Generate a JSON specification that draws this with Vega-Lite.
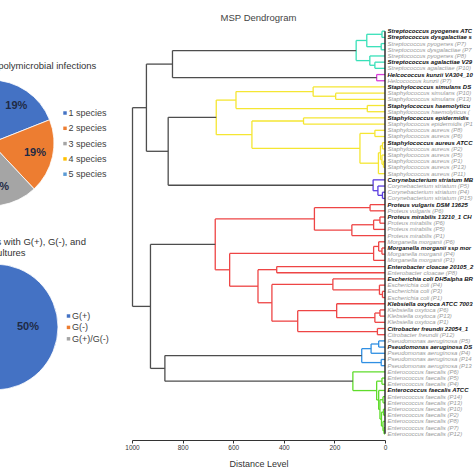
{
  "$schema": "https://vega.github.io/schema/vega-lite/v6.json",
  "autosize": {"type": "pad"},
  "padding": {"left": -115, "top": 12, "right": 0, "bottom": 0},
  "config": {"view": {"stroke": null}, "font": "Liberation Sans", "axisX": {"labelOverlap": false, "labelFlush": false}},
  "bounds": "flush",
  "spacing": 204,
  "resolve": {"scale": {"color": "independent"}, "legend": {"color": "independent"}},
  "datasets": {
    "pie1": [
      {"k": "1 species", "v": 19, "o": 1, "t": "19%"},
      {"k": "2 species", "v": 19, "o": 2, "t": "19%"},
      {"k": "3 species", "v": 19, "o": 3, "t": "19%"},
      {"k": "4 species", "v": 24, "o": 4, "t": "24%"},
      {"k": "5 species", "v": 19, "o": 5, "t": "19%"}
    ],
    "pie2": [
      {"k": "G(+)", "v": 50, "o": 1, "t": "50%"},
      {"k": "G(-)", "v": 31, "o": 2, "t": "31%"},
      {"k": "G(+)/G(-)", "v": 19, "o": 3, "t": "19%"}
    ],
    "nodes": [
      {"d":12,"pd":72,"u":0.5,"ut":0,"ub":1,"c":"t","hc":"t"},
      {"d":15,"pd":72,"u":2.5,"ut":2,"ub":3,"c":"t","hc":"t"},
      {"d":72,"pd":114,"u":1.5,"ut":0.5,"ub":2.5,"c":"t","hc":"t"},
      {"d":40,"pd":60,"u":5.5,"ut":5,"ub":6,"c":"t","hc":"t"},
      {"d":60,"pd":114,"u":4.75,"ut":4,"ub":5.5,"c":"t","hc":"t"},
      {"d":114,"pd":840,"u":3.125,"ut":1.5,"ub":4.75,"c":"t","hc":"k"},
      {"d":33,"pd":840,"u":7.5,"ut":7,"ub":8,"c":"m","hc":"k"},
      {"d":840,"pd":943,"u":5.3125,"ut":3.125,"ub":7.5,"c":"k","hc":"k"},
      {"d":195,"pd":284,"u":10.5,"ut":10,"ub":11,"c":"y","hc":"y"},
      {"d":284,"pd":589,"u":9.75,"ut":9,"ub":10.5,"c":"y","hc":"y"},
      {"d":70,"pd":589,"u":12.5,"ut":12,"ub":13,"c":"y","hc":"y"},
      {"d":589,"pd":667,"u":11.125,"ut":9.75,"ub":12.5,"c":"y","hc":"y"},
      {"d":322,"pd":526,"u":14.5,"ut":14,"ub":15,"c":"y","hc":"y"},
      {"d":40,"pd":99,"u":16.5,"ut":16,"ub":17,"c":"y","hc":"y"},
      {"d":10,"pd":18,"u":18.5,"ut":18,"ub":19,"c":"y","hc":"y"},
      {"d":6,"pd":12,"u":21.5,"ut":21,"ub":22,"c":"y","hc":"y"},
      {"d":12,"pd":18,"u":20.75,"ut":20,"ub":21.5,"c":"y","hc":"y"},
      {"d":18,"pd":26,"u":19.625,"ut":18.5,"ub":20.75,"c":"y","hc":"y"},
      {"d":26,"pd":99,"u":21.31,"ut":19.625,"ub":23,"c":"y","hc":"y"},
      {"d":99,"pd":526,"u":18.91,"ut":16.5,"ub":21.31,"c":"y","hc":"y"},
      {"d":526,"pd":667,"u":16.7,"ut":14.5,"ub":18.91,"c":"y","hc":"y"},
      {"d":667,"pd":857,"u":13.91,"ut":11.125,"ub":16.7,"c":"y","hc":"k"},
      {"d":10,"pd":28,"u":26.5,"ut":26,"ub":27,"c":"p","hc":"p"},
      {"d":28,"pd":47,"u":25.75,"ut":25,"ub":26.5,"c":"p","hc":"p"},
      {"d":47,"pd":857,"u":24.875,"ut":24,"ub":25.75,"c":"p","hc":"k"},
      {"d":857,"pd":943,"u":19.39,"ut":13.91,"ub":24.875,"c":"k","hc":"k"},
      {"d":943,"pd":998,"u":12.35,"ut":5.3125,"ub":19.39,"c":"k","hc":"k"},
      {"d":59,"pd":279,"u":28.5,"ut":28,"ub":29,"c":"r","hc":"r"},
      {"d":20,"pd":45,"u":30.5,"ut":30,"ub":31,"c":"r","hc":"r"},
      {"d":45,"pd":131,"u":31.25,"ut":30.5,"ub":32,"c":"r","hc":"r"},
      {"d":131,"pd":279,"u":32.125,"ut":31.25,"ub":33,"c":"r","hc":"r"},
      {"d":279,"pd":671,"u":30.31,"ut":28.5,"ub":32.125,"c":"r","hc":"r"},
      {"d":12,"pd":25,"u":35.5,"ut":35,"ub":36,"c":"r","hc":"r"},
      {"d":25,"pd":45,"u":34.75,"ut":34,"ub":35.5,"c":"r","hc":"r"},
      {"d":45,"pd":614,"u":35.875,"ut":34.75,"ub":37,"c":"r","hc":"r"},
      {"d":428,"pd":502,"u":38.5,"ut":38,"ub":39,"c":"r","hc":"r"},
      {"d":10,"pd":22,"u":42.5,"ut":42,"ub":43,"c":"r","hc":"r"},
      {"d":22,"pd":206,"u":41.75,"ut":41,"ub":42.5,"c":"r","hc":"r"},
      {"d":206,"pd":447,"u":40.875,"ut":40,"ub":41.75,"c":"r","hc":"r"},
      {"d":20,"pd":40,"u":45.5,"ut":45,"ub":46,"c":"r","hc":"r"},
      {"d":40,"pd":191,"u":46.25,"ut":45.5,"ub":47,"c":"r","hc":"r"},
      {"d":191,"pd":345,"u":45.125,"ut":44,"ub":46.25,"c":"r","hc":"r"},
      {"d":30,"pd":345,"u":48.5,"ut":48,"ub":49,"c":"r","hc":"r"},
      {"d":345,"pd":447,"u":46.81,"ut":45.125,"ub":48.5,"c":"r","hc":"r"},
      {"d":447,"pd":502,"u":43.84,"ut":40.875,"ub":46.81,"c":"r","hc":"r"},
      {"d":502,"pd":614,"u":41.17,"ut":38.5,"ub":43.84,"c":"r","hc":"r"},
      {"d":614,"pd":671,"u":38.52,"ut":35.875,"ub":41.17,"c":"r","hc":"r"},
      {"d":671,"pd":927,"u":34.42,"ut":30.31,"ub":38.52,"c":"r","hc":"k"},
      {"d":25,"pd":55,"u":50.5,"ut":50,"ub":51,"c":"b","hc":"b"},
      {"d":55,"pd":92,"u":51.25,"ut":50.5,"ub":52,"c":"b","hc":"b"},
      {"d":15,"pd":92,"u":53.5,"ut":53,"ub":54,"c":"b","hc":"b"},
      {"d":92,"pd":870,"u":52.375,"ut":51.25,"ub":53.5,"c":"b","hc":"k"},
      {"d":12,"pd":33,"u":56.5,"ut":56,"ub":57,"c":"g","hc":"g"},
      {"d":8,"pd":20,"u":59.5,"ut":59,"ub":60,"c":"g","hc":"g"},
      {"d":6,"pd":14,"u":61.5,"ut":61,"ub":62,"c":"g","hc":"g"},
      {"d":4,"pd":8,"u":64.5,"ut":64,"ub":65,"c":"g","hc":"g"},
      {"d":8,"pd":14,"u":63.75,"ut":63,"ub":64.5,"c":"g","hc":"g"},
      {"d":14,"pd":20,"u":62.625,"ut":61.5,"ub":63.75,"c":"g","hc":"g"},
      {"d":20,"pd":25,"u":61.06,"ut":59.5,"ub":62.625,"c":"g","hc":"g"},
      {"d":25,"pd":33,"u":59.53,"ut":58,"ub":61.06,"c":"g","hc":"g"},
      {"d":33,"pd":127,"u":58.02,"ut":56.5,"ub":59.53,"c":"g","hc":"g"},
      {"d":127,"pd":870,"u":56.51,"ut":55,"ub":58.02,"c":"g","hc":"k"},
      {"d":870,"pd":927,"u":54.44,"ut":52.375,"ub":56.51,"c":"k","hc":"k"},
      {"d":927,"pd":998,"u":44.43,"ut":34.42,"ub":54.44,"c":"k","hc":"k"},
      {"d":998,"u":28.39,"ut":12.35,"ub":44.43,"c":"k"}
    ],
    "leaves": [
      {"i":0,"z":0,"n":"Streptococcus pyogenes ATCC 19615","b":1,"pd":12,"c":"t"},
      {"i":1,"z":0,"n":"Streptococcus dysgalactiae ssp equisimilis","b":1,"pd":12,"c":"t"},
      {"i":2,"z":0,"n":"Streptococcus pyogenes (P7)","b":0,"pd":15,"c":"t"},
      {"i":3,"z":0,"n":"Streptococcus dysgalactiae (P7)","b":0,"pd":15,"c":"t"},
      {"i":4,"z":0,"n":"Streptococcus pyogenes (P8)","b":0,"pd":60,"c":"t"},
      {"i":5,"z":0,"n":"Streptococcus agalactiae V2965","b":1,"pd":40,"c":"t"},
      {"i":6,"z":0,"n":"Streptococcus agalactiae (P10)","b":0,"pd":40,"c":"t"},
      {"i":7,"z":0,"n":"Helcococcus kunzii VA304_10 LBK","b":1,"pd":33,"c":"m"},
      {"i":8,"z":0,"n":"Helcococcus kunzii (P7)","b":0,"pd":33,"c":"m"},
      {"i":9,"z":0,"n":"Staphylococcus simulans DSM 20322","b":1,"pd":284,"c":"y"},
      {"i":10,"z":0,"n":"Staphylococcus simulans (P10)","b":0,"pd":195,"c":"y"},
      {"i":11,"z":0,"n":"Staphylococcus simulans (P13)","b":0,"pd":195,"c":"y"},
      {"i":12,"z":0,"n":"Staphylococcus haemolyticus DSM 20263","b":1,"pd":70,"c":"y"},
      {"i":13,"z":0,"n":"Staphylococcus haemolyticus (P14)","b":0,"pd":70,"c":"y"},
      {"i":14,"z":0,"n":"Staphylococcus epidermidis ATCC 12228","b":1,"pd":322,"c":"y"},
      {"i":15,"z":0,"n":"Staphylococcus epidermidis (P14)","b":0,"pd":322,"c":"y"},
      {"i":16,"z":0,"n":"Staphylococcus aureus (P8)","b":0,"pd":40,"c":"y"},
      {"i":17,"z":0,"n":"Staphylococcus aureus (P6)","b":0,"pd":40,"c":"y"},
      {"i":18,"z":0,"n":"Staphylococcus aureus ATCC 29213","b":1,"pd":10,"c":"y"},
      {"i":19,"z":0,"n":"Staphylococcus aureus (P2)","b":0,"pd":10,"c":"y"},
      {"i":20,"z":0,"n":"Staphylococcus aureus (P5)","b":0,"pd":12,"c":"y"},
      {"i":21,"z":0,"n":"Staphylococcus aureus (P1)","b":0,"pd":6,"c":"y"},
      {"i":22,"z":0,"n":"Staphylococcus aureus (P13)","b":0,"pd":6,"c":"y"},
      {"i":23,"z":0,"n":"Staphylococcus aureus (P11)","b":0,"pd":26,"c":"y"},
      {"i":24,"z":0,"n":"Corynebacterium striatum MB 2010","b":1,"pd":47,"c":"p"},
      {"i":25,"z":0,"n":"Corynebacterium striatum (P5)","b":0,"pd":28,"c":"p"},
      {"i":26,"z":0,"n":"Corynebacterium striatum (P4)","b":0,"pd":10,"c":"p"},
      {"i":27,"z":0,"n":"Corynebacterium striatum (P15)","b":0,"pd":10,"c":"p"},
      {"i":28,"z":0,"n":"Proteus vulgaris DSM 13625 DSM","b":1,"pd":59,"c":"r"},
      {"i":29,"z":0,"n":"Proteus vulgaris (P6)","b":0,"pd":59,"c":"r"},
      {"i":30,"z":0,"n":"Proteus mirabilis 13210_1 CHB","b":1,"pd":20,"c":"r"},
      {"i":31,"z":0,"n":"Proteus mirabilis (P6)","b":0,"pd":20,"c":"r"},
      {"i":32,"z":0,"n":"Proteus mirabilis (P5)","b":0,"pd":45,"c":"r"},
      {"i":33,"z":0,"n":"Proteus mirabilis (P1)","b":0,"pd":131,"c":"r"},
      {"i":34,"z":0,"n":"Morganella morganii (P6)","b":0,"pd":25,"c":"r"},
      {"i":35,"z":0,"n":"Morganella morganii ssp morganii","b":1,"pd":12,"c":"r"},
      {"i":36,"z":0,"n":"Morganella morganii (P4)","b":0,"pd":12,"c":"r"},
      {"i":37,"z":0,"n":"Morganella morganii (P1)","b":0,"pd":45,"c":"r"},
      {"i":38,"z":0,"n":"Enterobacter cloacae 20105_2 CHB","b":1,"pd":428,"c":"r"},
      {"i":39,"z":0,"n":"Enterobacter cloacae (P8)","b":0,"pd":428,"c":"r"},
      {"i":40,"z":0,"n":"Escherichia coli DH5alpha BRL","b":1,"pd":206,"c":"r"},
      {"i":41,"z":0,"n":"Escherichia coli (P4)","b":0,"pd":22,"c":"r"},
      {"i":42,"z":0,"n":"Escherichia coli (P3)","b":0,"pd":10,"c":"r"},
      {"i":43,"z":0,"n":"Escherichia coli (P1)","b":0,"pd":10,"c":"r"},
      {"i":44,"z":0,"n":"Klebsiella oxytoca ATCC 700324","b":1,"pd":191,"c":"r"},
      {"i":45,"z":0,"n":"Klebsiella oxytoca (P6)","b":0,"pd":20,"c":"r"},
      {"i":46,"z":0,"n":"Klebsiella oxytoca (P13)","b":0,"pd":20,"c":"r"},
      {"i":47,"z":0,"n":"Klebsiella oxytoca (P1)","b":0,"pd":40,"c":"r"},
      {"i":48,"z":0,"n":"Citrobacter freundii 22054_1 CHB","b":1,"pd":30,"c":"r"},
      {"i":49,"z":0,"n":"Citrobacter freundii (P12)","b":0,"pd":30,"c":"r"},
      {"i":50,"z":0,"n":"Pseudomonas aeruginosa (P5)","b":0,"pd":25,"c":"b"},
      {"i":51,"z":0,"n":"Pseudomonas aeruginosa DSM 1117","b":1,"pd":25,"c":"b"},
      {"i":52,"z":0,"n":"Pseudomonas aeruginosa (P4)","b":0,"pd":55,"c":"b"},
      {"i":53,"z":0,"n":"Pseudomonas aeruginosa (P14)","b":0,"pd":15,"c":"b"},
      {"i":54,"z":0,"n":"Pseudomonas aeruginosa (P13)","b":0,"pd":15,"c":"b"},
      {"i":55,"z":0,"n":"Enterococcus faecalis (P6)","b":0,"pd":127,"c":"g"},
      {"i":56,"z":0,"n":"Enterococcus faecalis (P5)","b":0,"pd":12,"c":"g"},
      {"i":57,"z":0,"n":"Enterococcus faecalis (P4)","b":0,"pd":12,"c":"g"},
      {"i":58,"z":0,"n":"Enterococcus faecalis ATCC 7080","b":1,"pd":25,"c":"g"},
      {"i":59,"z":0,"n":"Enterococcus faecalis (P14)","b":0,"pd":8,"c":"g"},
      {"i":60,"z":0,"n":"Enterococcus faecalis (P13)","b":0,"pd":8,"c":"g"},
      {"i":61,"z":0,"n":"Enterococcus faecalis (P10)","b":0,"pd":6,"c":"g"},
      {"i":62,"z":0,"n":"Enterococcus faecalis (P2)","b":0,"pd":6,"c":"g"},
      {"i":63,"z":0,"n":"Enterococcus faecalis (P8)","b":0,"pd":8,"c":"g"},
      {"i":64,"z":0,"n":"Enterococcus faecalis (P7)","b":0,"pd":4,"c":"g"},
      {"i":65,"z":0,"n":"Enterococcus faecalis (P12)","b":0,"pd":4,"c":"g"}
    ]
  },
  "hconcat": [
    {
      "bounds": "flush",
      "spacing": 3,
      "resolve": {"scale": {"color": "independent"}, "legend": {"color": "independent"}},
      "vconcat": [
        {
          "width": 126,
          "height": 236,
          "title": {"text": "Number of species in total polymicrobial infections", "fontSize": 9.5, "fontWeight": "normal", "color": "#333333", "anchor": "middle", "offset": 0, "baseline": "bottom", "dy": 55.5},
          "data": {"name": "pie1"},
          "encoding": {
            "theta": {"field": "v", "type": "quantitative", "stack": true},
            "order": {"field": "o", "type": "quantitative"},
            "color": {
              "field": "k", "type": "nominal",
              "scale": {"domain": ["1 species", "2 species", "3 species", "4 species", "5 species"], "range": ["#4472c4", "#ed7d31", "#a5a5a5", "#ffc000", "#5b9bd5"]},
              "legend": {"title": null, "orient": "none", "legendX": 132.5, "legendY": 83.5, "symbolType": "square", "symbolSize": 12, "labelFontSize": 9, "labelColor": "#404040", "rowPadding": 5.3, "labelOffset": -1, "padding": 0, "symbolStrokeWidth": 0}
            }
          },
          "layer": [
            {"mark": {"type": "arc", "radius": 63, "stroke": "#ffffff", "strokeWidth": 0.8}},
            {"mark": {"type": "text", "radius": 45, "fontSize": 11, "fontWeight": "bold", "fill": "#1f2a44"}, "encoding": {"text": {"field": "t", "type": "nominal"}}}
          ]
        },
        {
          "width": 134,
          "height": 126,
          "title": {"text": ["Proportion of infections with G(+), G(-), and", "mixed cultures"], "fontSize": 9.5, "lineHeight": 10.5, "fontWeight": "normal", "color": "#333333", "anchor": "middle", "offset": 7, "baseline": "bottom", "dy": 12},
          "data": {"name": "pie2"},
          "encoding": {
            "theta": {"field": "v", "type": "quantitative", "stack": true},
            "order": {"field": "o", "type": "quantitative"},
            "color": {
              "field": "k", "type": "nominal",
              "scale": {"domain": ["G(+)", "G(-)", "G(+)/G(-)"], "range": ["#4472c4", "#ed7d31", "#a5a5a5"]},
              "legend": {"title": null, "orient": "none", "legendX": 136, "legendY": 47.5, "symbolType": "square", "symbolSize": 12, "labelFontSize": 9, "labelColor": "#404040", "rowPadding": 1.4, "labelOffset": -1, "padding": 0, "symbolStrokeWidth": 0}
            }
          },
          "layer": [
            {"mark": {"type": "arc", "radius": 63, "stroke": "#ffffff", "strokeWidth": 0.8}},
            {"mark": {"type": "text", "radius": 33, "fontSize": 11, "fontWeight": "bold", "fill": "#1f2a44"}, "encoding": {"text": {"field": "t", "type": "nominal"}}}
          ]
        }
      ]
    },
    {
      "width": 253,
      "height": 415,
      "title": {"text": "MSP Dendrogram", "fontSize": 9.5, "fontWeight": "normal", "color": "#444444", "offset": 3},
      "layer": [
        {
          "data": {"name": "nodes"},
          "mark": {"type": "rule", "strokeWidth": 1.3},
          "encoding": {
            "x": {"field": "d", "type": "quantitative",
              "scale": {"domain": [0, 1000], "reverse": true, "nice": false, "zero": true},
              "axis": {"values": [0, 100, 200, 300, 400, 500, 600, 700, 800, 900, 1000], "tickCount": 10, "title": "Distance Level", "format": "d", "grid": false, "labelFontSize": 6.5, "labelColor": "#333333", "labelFlush": false, "labelOverlap": false, "tickColor": "#333333", "domainColor": "#333333", "tickSize": 3, "labelPadding": 1.5, "titleFontSize": 9, "titleFontWeight": "normal", "titleColor": "#333333", "titlePadding": 8}},
            "y": {"field": "ut", "type": "quantitative", "scale": {"domain": [-1, 66], "reverse": true, "nice": false, "zero": false}, "axis": null},
            "y2": {"field": "ub"},
            "stroke": {"field": "c", "type": "nominal", "scale": {"domain": ["k", "t", "m", "y", "p", "r", "b", "g"], "range": ["#4d4d4d", "#38e0b8", "#d93fd9", "#f5e633", "#5a3de0", "#ee4545", "#2f8fe3", "#5fdc2b"]}, "legend": null}
          }
        },
        {
          "data": {"name": "nodes"},
          "transform": [{"filter": "isValid(datum.pd)"}],
          "mark": {"type": "rule", "strokeWidth": 1.3},
          "encoding": {
            "x": {"field": "d", "type": "quantitative", "axis": {"values": [0, 100, 200, 300, 400, 500, 600, 700, 800, 900, 1000], "tickCount": 10, "title": "Distance Level", "format": "d", "grid": false, "labelFontSize": 6.5, "labelColor": "#333333", "labelFlush": false, "labelOverlap": false, "tickColor": "#333333", "domainColor": "#333333", "tickSize": 3, "labelPadding": 1.5, "titleFontSize": 9, "titleFontWeight": "normal", "titleColor": "#333333", "titlePadding": 8}},
            "x2": {"field": "pd"},
            "y": {"field": "u", "type": "quantitative", "axis": null},
            "stroke": {"field": "hc", "type": "nominal", "legend": null}
          }
        },
        {
          "data": {"name": "leaves"},
          "mark": {"type": "rule", "strokeWidth": 1.3},
          "encoding": {
            "x": {"field": "z", "type": "quantitative", "axis": {"values": [0, 100, 200, 300, 400, 500, 600, 700, 800, 900, 1000], "tickCount": 10, "title": "Distance Level", "format": "d", "grid": false, "labelFontSize": 6.5, "labelColor": "#333333", "labelFlush": false, "labelOverlap": false, "tickColor": "#333333", "domainColor": "#333333", "tickSize": 3, "labelPadding": 1.5, "titleFontSize": 9, "titleFontWeight": "normal", "titleColor": "#333333", "titlePadding": 8}},
            "x2": {"field": "pd"},
            "y": {"field": "i", "type": "quantitative", "axis": null},
            "stroke": {"field": "c", "type": "nominal", "legend": null}
          }
        },
        {
          "data": {"name": "leaves"},
          "mark": {"type": "rule", "strokeWidth": 1.4, "color": "#222222"},
          "encoding": {
            "x": {"field": "z", "type": "quantitative", "axis": {"values": [0, 100, 200, 300, 400, 500, 600, 700, 800, 900, 1000], "tickCount": 10, "title": "Distance Level", "format": "d", "grid": false, "labelFontSize": 6.5, "labelColor": "#333333", "labelFlush": false, "labelOverlap": false, "tickColor": "#333333", "domainColor": "#333333", "tickSize": 3, "labelPadding": 1.5, "titleFontSize": 9, "titleFontWeight": "normal", "titleColor": "#333333", "titlePadding": 8}},
            "y": {"field": "i", "type": "quantitative", "aggregate": "min", "axis": null},
            "y2": {"field": "i", "aggregate": "max"}
          }
        },
        {
          "data": {"name": "leaves"},
          "transform": [{"filter": "datum.b == 1"}],
          "mark": {"type": "text", "align": "left", "baseline": "middle", "dx": 2.5, "fontSize": 6, "fontStyle": "italic", "fontWeight": "bold", "fill": "#111111", "limit": 86, "ellipsis": "\u200b"},
          "encoding": {
            "x": {"field": "z", "type": "quantitative", "axis": {"values": [0, 100, 200, 300, 400, 500, 600, 700, 800, 900, 1000], "tickCount": 10, "title": "Distance Level", "format": "d", "grid": false, "labelFontSize": 6.5, "labelColor": "#333333", "labelFlush": false, "labelOverlap": false, "tickColor": "#333333", "domainColor": "#333333", "tickSize": 3, "labelPadding": 1.5, "titleFontSize": 9, "titleFontWeight": "normal", "titleColor": "#333333", "titlePadding": 8}},
            "y": {"field": "i", "type": "quantitative", "axis": null},
            "text": {"field": "n", "type": "nominal"}
          }
        },
        {
          "data": {"name": "leaves"},
          "transform": [{"filter": "datum.b == 0"}],
          "mark": {"type": "text", "align": "left", "baseline": "middle", "dx": 2.5, "fontSize": 6, "fontStyle": "italic", "fill": "#9a9a9a", "limit": 86, "ellipsis": "\u200b"},
          "encoding": {
            "x": {"field": "z", "type": "quantitative", "axis": {"values": [0, 100, 200, 300, 400, 500, 600, 700, 800, 900, 1000], "tickCount": 10, "title": "Distance Level", "format": "d", "grid": false, "labelFontSize": 6.5, "labelColor": "#333333", "labelFlush": false, "labelOverlap": false, "tickColor": "#333333", "domainColor": "#333333", "tickSize": 3, "labelPadding": 1.5, "titleFontSize": 9, "titleFontWeight": "normal", "titleColor": "#333333", "titlePadding": 8}},
            "y": {"field": "i", "type": "quantitative", "axis": null},
            "text": {"field": "n", "type": "nominal"}
          }
        }
      ]
    }
  ]
}
